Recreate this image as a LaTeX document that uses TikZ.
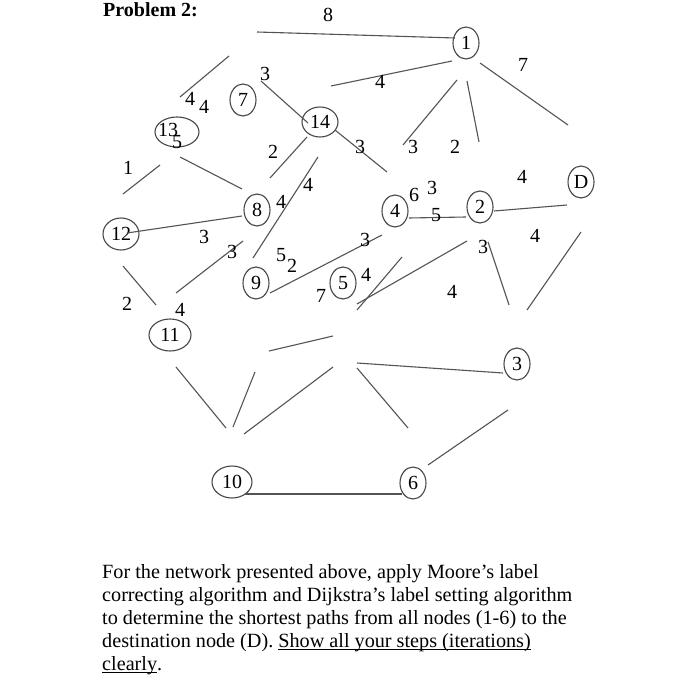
\documentclass[tikz,border=0pt]{standalone}
\usepackage{fontspec}
\setmainfont{Liberation Serif}
\usetikzlibrary{shapes.geometric}
\definecolor{linec}{gray}{0.33}
\definecolor{ovalc}{gray}{0.28}
\newcommand\myul[1]{\setbox0\hbox{#1}\rlap{\rule[-2.8pt]{\wd0}{0.9pt}}\box0}
\tikzset{
  vtx/.style={ellipse, draw=ovalc, line width=1.1pt, inner sep=0pt, minimum width=26pt, minimum height=32pt, font=\fontsize{20}{20}\selectfont},
  lbl/.style={inner sep=0pt, font=\fontsize{20}{20}\selectfont},
  seg/.style={draw=linec, line width=1.1pt},
  body/.style={anchor=base west, inner sep=0pt, font=\fontsize{20.2}{23}\selectfont}
}
\begin{document}
\begin{tikzpicture}[x=1pt, y=-1pt]
\useasboundingbox (0,0) rectangle (690,700);
\fill[white] (0,0) rectangle (690,700);

% title
\node[body, font=\fontsize{20}{23}\selectfont\bfseries] (title) at (103,17) {Problem 2:};

% vertices
\node[vtx] (n1) at (466,43) {1};
\node[vtx] (n7) at (243,100) {7};
\node[vtx, minimum width=36pt, minimum height=30pt] (n14) at (320,122) {14};
\node[vtx, minimum width=44pt, minimum height=30pt] (n13) at (177,132) {};
\node[lbl] (n13t) at (168,130) {13};
\node[lbl] (n13f) at (177,142) {5};
\node[vtx] (n8) at (257,210) {8};
\node[vtx, minimum width=36pt] (n12) at (121,234) {12};
\node[vtx] (n4) at (395,211) {4};
\node[vtx] (n2) at (480,207) {2};
\node[vtx] (nD) at (581,182) {D};
\node[vtx] (n9) at (256,283) {9};
\node[vtx] (n5) at (343,283) {5};
\node[vtx, minimum width=42pt] (n11) at (170,335) {11};
\node[vtx] (n3) at (517,364) {3};
\node[vtx, minimum width=40pt] (n10) at (232,482) {10};
\node[vtx] (n6) at (413,483) {6};

% segment end points
\coordinate (a1) at (257,32);   \coordinate (a2) at (455,38);
\coordinate (b1) at (180,97);   \coordinate (b2) at (229,56);
\coordinate (c1) at (261,81);   \coordinate (c2) at (308,123);
\coordinate (d1) at (331,86);   \coordinate (d2) at (452,61);
\coordinate (e1) at (403,145);  \coordinate (e2) at (457,80);
\coordinate (f1) at (467,81);   \coordinate (f2) at (479,142);
\coordinate (g1) at (480,63);   \coordinate (g2) at (568,125);
\coordinate (h1) at (335,130);  \coordinate (h2) at (387,172);
\coordinate (i1) at (270,178);  \coordinate (i2) at (307,137);
\coordinate (j1) at (318,157);  \coordinate (j2) at (253,258);
\coordinate (k1) at (180,157);  \coordinate (k2) at (242,189);
\coordinate (l1) at (123,194);  \coordinate (l2) at (160,165);
\coordinate (m1) at (127,233);  \coordinate (m2) at (242,216);
\coordinate (o1) at (176,293);  \coordinate (o2) at (243,241);
\coordinate (p1) at (270,293);  \coordinate (p2) at (382,235);
\coordinate (q1) at (123,266);  \coordinate (q2) at (156,305);
\coordinate (r1) at (409,218);  \coordinate (r2) at (466,217);
\coordinate (s1) at (494,211);  \coordinate (s2) at (567,205);
\coordinate (t1) at (488,242);  \coordinate (t2) at (509,305);
\coordinate (u1) at (527,310);  \coordinate (u2) at (581,232);
\coordinate (v1) at (357,310);  \coordinate (v2) at (402,257);
\coordinate (w1) at (357,304);  \coordinate (w2) at (467,241);
\coordinate (x1) at (269,351);  \coordinate (x2) at (333,336);
\coordinate (y1) at (176,367);  \coordinate (y2) at (226,428);
\coordinate (z1) at (233,427);  \coordinate (z2) at (255,372);
\coordinate (aa1) at (244,434); \coordinate (aa2) at (333,367);
\coordinate (bb1) at (357,363); \coordinate (bb2) at (503,373);
\coordinate (cc1) at (357,368); \coordinate (cc2) at (408,428);
\coordinate (dd1) at (428,465); \coordinate (dd2) at (508,410);
\coordinate (ee1) at (245,494); \coordinate (ee2) at (402,494);

\foreach \s in {a,b,c,d,e,f,g,h,i,j,k,l,m,o,p,q,r,s,t,u,v,w,x,y,z,aa,bb,cc,dd,ee}
  \path[seg] (\s1) -- (\s2);

% weights
\node[lbl] (w8) at (328,15) {8};
\node[lbl] (w7a) at (523,65) {7};
\node[lbl] (w4a) at (190,99) {4};
\node[lbl] (w4b) at (204,107) {4};
\node[lbl] (w3a) at (265,74) {3};
\node[lbl] (w4c) at (380,82) {4};
\node[lbl] (w2a) at (273,152) {2};
\node[lbl] (w3b) at (360,147) {3};
\node[lbl] (w3c) at (413,147) {3};
\node[lbl] (w2b) at (455,147) {2};
\node[lbl] (w1) at (128,168) {1};
\node[lbl] (w4d) at (308,185) {4};
\node[lbl] (w4e) at (281,202) {4};
\node[lbl] (w6) at (414,195) {6};
\node[lbl] (w3d) at (432,188) {3};
\node[lbl] (w5a) at (436,215) {5};
\node[lbl] (w4f) at (522,177) {4};
\node[lbl] (w3e) at (204,237) {3};
\node[lbl] (w4g) at (535,236) {4};
\node[lbl] (w3f) at (232,252) {3};
\node[lbl] (w5b) at (281,255) {5};
\node[lbl] (w2c) at (292,266) {2};
\node[lbl] (w3g) at (365,240) {3};
\node[lbl] (w3h) at (483,247) {3};
\node[lbl] (w4h) at (366,275) {4};
\node[lbl] (w7b) at (321,296) {7};
\node[lbl] (w4i) at (452,292) {4};
\node[lbl] (w2d) at (127,304) {2};
\node[lbl] (w4j) at (180,310) {4};

% problem text
\node[body] (l1) at (102,578) {For the network presented above, apply Moore’s label};
\node[body] (l2) at (102,601) {correcting algorithm and Dijkstra’s label setting algorithm};
\node[body] (l3) at (102,624) {to determine the shortest paths from all nodes (1-6) to the};
\node[body] (l4) at (102,647) {destination node (D). \myul{Show all your steps (iterations)}};
\node[body] (l5) at (102,670) {\myul{clearly}.};
\end{tikzpicture}
\end{document}
